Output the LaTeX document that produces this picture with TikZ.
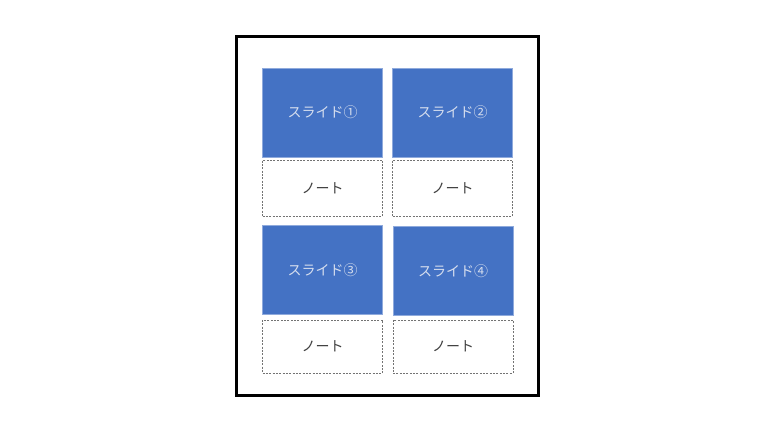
\documentclass[tikz,border=0pt]{standalone}
\usepackage{fontspec}
\newfontfamily\jpfont{Noto Sans CJK JP}
\usepackage{xcolor}
\usepackage{tikz}
\usetikzlibrary{positioning}

\definecolor{slideblue}{HTML}{4472C4}
\definecolor{slidetext}{HTML}{D6DEEE}
\definecolor{notetext}{HTML}{404040}

\begin{document}
\begin{tikzpicture}[x=0.75pt, y=-0.75pt,
    slidebox/.style={fill=slideblue, draw=slideblue!60!white, line width=0.4pt,
        minimum width=90pt, minimum height=67pt, inner sep=0pt,
        font=\jpfont\fontsize{10.5pt}{12pt}\selectfont, text=slidetext},
    notebox/.style={draw=black!55, dashed, dash pattern=on 1.5pt off 1pt, line width=0.4pt,
        minimum width=90pt, minimum height=41pt, inner sep=0pt,
        font=\jpfont\fontsize{10.5pt}{12pt}\selectfont, text=notetext}]
    \useasboundingbox (0,0) rectangle (768,432);

    % Page frame
    \draw[line width=1.6pt] (236.5,36.5) rectangle (538.5,395.5);

    % Upper row
    \node[slidebox] (slide1) at (322.5,112.5) {スライド①};
    \node[notebox, minimum height=42pt] (note1) at (322.5,188) {ノート};
    \node[slidebox] (slide2) at (452.5,112.5) {スライド②};
    \node[notebox, minimum height=42pt] (note2) at (452.5,188) {ノート};

    % Lower row
    \node[slidebox] (slide3) at (322.5,270) {スライド③};
    \node[notebox, minimum height=40pt] (note3) at (322.5,346.5) {ノート};
    \node[slidebox] (slide4) at (453,271) {スライド④};
    \node[notebox, minimum height=40pt] (note4) at (453,346.5) {ノート};
\end{tikzpicture}
\end{document}
